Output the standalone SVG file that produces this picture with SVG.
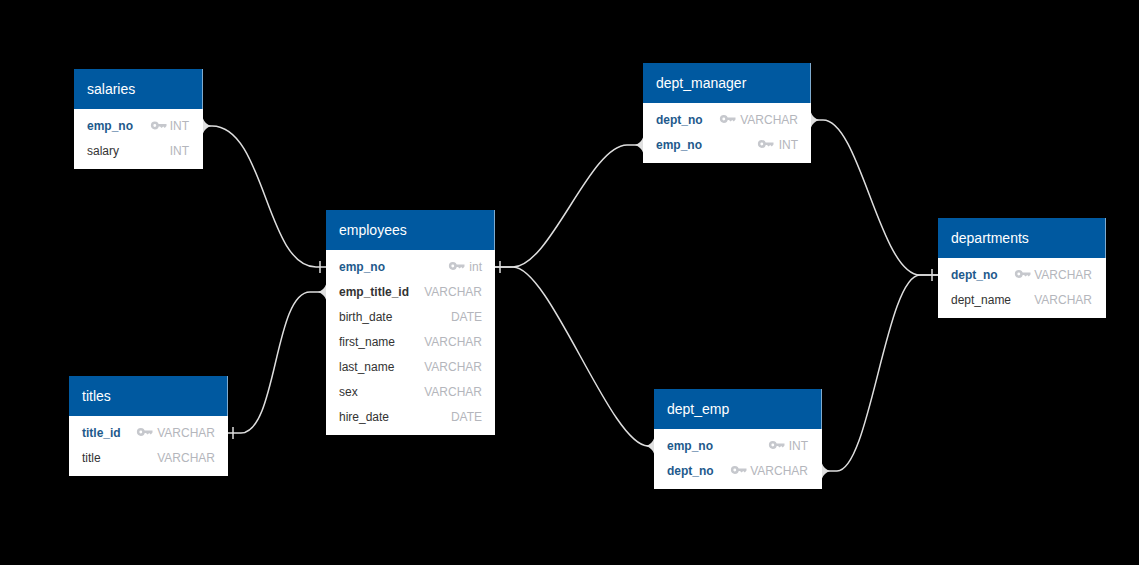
<svg xmlns="http://www.w3.org/2000/svg" width="1139" height="565" viewBox="0 0 1139 565">
<style>
text{font-family:"Liberation Sans",Arial,sans-serif;font-size:12px}
.h{fill:#0059a0}.b{fill:#fff}
.t{font-size:14px;fill:#fff}
.pk{font-weight:bold;fill:#1e5a8c}
.fk{font-weight:bold;fill:#333}
.c{fill:#333}
.ty{fill:#b4b6bc;text-anchor:end}
.l{fill:none;stroke:#dedede;stroke-width:1.5}
.m{fill:none;stroke:#dedede;stroke-width:1.5}
.f{fill:#e0e0e0}
</style>
<defs>
<g id="key"><circle cx="3.8" cy="0" r="2.7" fill="none" stroke="#c6c8cd" stroke-width="2.5"/><path d="M6 -1.6H15.500V0.4L13.800 2.600L12.200 1.100L10.600 2.600L9 1.100H6Z" fill="#c6c8cd"/></g>
<path id="many-r" class="f" d="M0 -7.500Q2 -2 8 0Q2 2 0 7.500Z"/>
<path id="many-l" class="f" d="M0 -7.500Q-2 -2 -8 0Q-2 2 0 7.500Z"/>
<path id="one" class="m" d="M0 -6V6"/>
</defs>
<rect width="1139" height="565" fill="#000"/>
<g id="connectors">
<path class="l" d="M203 126H212C265 126 266 267 316 267H326"/>
<use href="#many-r" x="203" y="126"/><use href="#one" x="320" y="267"/>
<path class="l" d="M228 433H241C277 433 274 292 310 292H326"/>
<use href="#one" x="233" y="433"/><use href="#many-l" x="326" y="292"/>
<path class="l" d="M495 267H513C550 267 590 145 627 145H643"/>
<use href="#one" x="500" y="267"/><use href="#many-l" x="643" y="145"/>
<path class="l" d="M495 267H513C550 267 611 446 648 446H654"/>
<use href="#many-l" x="654" y="446"/>
<path class="l" d="M811 120H823C860 120 880 275 920 275H938"/>
<use href="#many-r" x="811" y="120"/><use href="#one" x="932" y="275"/>
<path class="l" d="M822 471H837C870 471 886 275 920 275H938"/>
<use href="#many-r" x="822" y="471"/>
</g>
<g id="salaries">
<rect class="b" x="74" y="69" width="129" height="100"/><rect class="h" x="74" y="69" width="128.500" height="40"/>
<text class="t" x="87" y="94">salaries</text>
<text class="pk" x="87" y="130">emp_no</text><use href="#key" x="151" y="125.500"/><text class="ty" x="189" y="130">INT</text>
<text class="c" x="87" y="155">salary</text><text class="ty" x="189" y="155">INT</text>
</g>
<g id="employees">
<rect class="b" x="326" y="210" width="169" height="225"/><rect class="h" x="326" y="210" width="168.500" height="40"/>
<text class="t" x="339" y="235">employees</text>
<text class="pk" x="339" y="271">emp_no</text><use href="#key" x="449" y="266"/><text class="ty" x="482" y="271">int</text>
<text class="fk" x="339" y="296">emp_title_id</text><text class="ty" x="482" y="296">VARCHAR</text>
<text class="c" x="339" y="321">birth_date</text><text class="ty" x="482" y="321">DATE</text>
<text class="c" x="339" y="346">first_name</text><text class="ty" x="482" y="346">VARCHAR</text>
<text class="c" x="339" y="371">last_name</text><text class="ty" x="482" y="371">VARCHAR</text>
<text class="c" x="339" y="396">sex</text><text class="ty" x="482" y="396">VARCHAR</text>
<text class="c" x="339" y="421">hire_date</text><text class="ty" x="482" y="421">DATE</text>
</g>
<g id="titles">
<rect class="b" x="69" y="376" width="159" height="100"/><rect class="h" x="69" y="376" width="158.500" height="40"/>
<text class="t" x="82" y="401">titles</text>
<text class="pk" x="82" y="437">title_id</text><use href="#key" x="137" y="432"/><text class="ty" x="215" y="437">VARCHAR</text>
<text class="c" x="82" y="462">title</text><text class="ty" x="215" y="462">VARCHAR</text>
</g>
<g id="dept_manager">
<rect class="b" x="643" y="63" width="168" height="100"/><rect class="h" x="643" y="63" width="167.500" height="40"/>
<text class="t" x="656" y="88">dept_manager</text>
<text class="pk" x="656" y="124">dept_no</text><use href="#key" x="720" y="119"/><text class="ty" x="798" y="124">VARCHAR</text>
<text class="pk" x="656" y="149">emp_no</text><use href="#key" x="758" y="144"/><text class="ty" x="798" y="149">INT</text>
</g>
<g id="dept_emp">
<rect class="b" x="654" y="389" width="168" height="100"/><rect class="h" x="654" y="389" width="167.500" height="40"/>
<text class="t" x="667" y="414">dept_emp</text>
<text class="pk" x="667" y="450">emp_no</text><use href="#key" x="769" y="445"/><text class="ty" x="808" y="450">INT</text>
<text class="pk" x="667" y="475">dept_no</text><use href="#key" x="731" y="470"/><text class="ty" x="808" y="475">VARCHAR</text>
</g>
<g id="departments">
<rect class="b" x="938" y="218" width="168" height="100"/><rect class="h" x="938" y="218" width="167.500" height="40"/>
<text class="t" x="951" y="243">departments</text>
<text class="pk" x="951" y="279">dept_no</text><use href="#key" x="1015" y="274"/><text class="ty" x="1092" y="279">VARCHAR</text>
<text class="c" x="951" y="304">dept_name</text><text class="ty" x="1092" y="304">VARCHAR</text>
</g>
</svg>
